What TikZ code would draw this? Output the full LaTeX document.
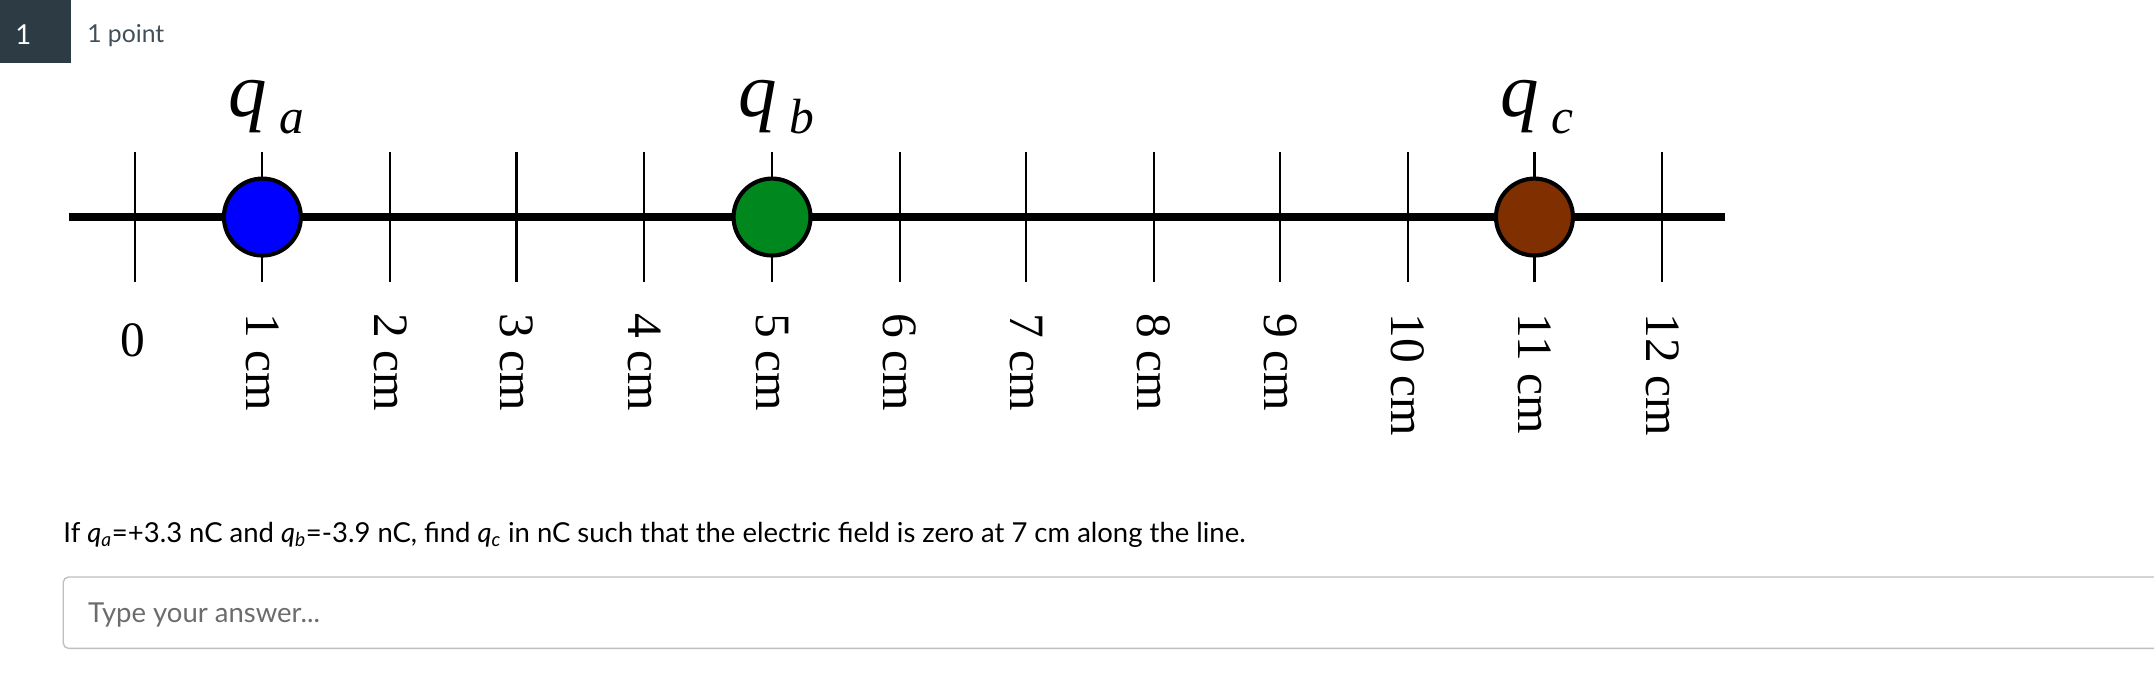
\documentclass[tikz,border=0pt]{standalone}
\usepackage{fontspec}
\setmainfont{Lato}
\newfontfamily\tms{Liberation Serif}
\definecolor{darkbox}{HTML}{2D3B45}
\definecolor{brownq}{HTML}{803000}
\definecolor{greenq}{HTML}{00881E}
\begin{document}
\begin{tikzpicture}[x=1pt,y=-1pt,
  tick/.style={line width=1.6pt},
  charge/.style={circle,draw=black,line width=3pt,minimum size=56pt,inner sep=0pt},
  lab/.style={font=\tms\fontsize{36}{36}\selectfont,rotate=-90,anchor=west,inner sep=0pt},
  qlab/.style={font=\tms\itshape\fontsize{56}{56}\selectfont,inner sep=0pt}]
\useasboundingbox (0,0) rectangle (1568,491);
\fill[darkbox] (0,0) rectangle (52,46);
\node[text=white,font=\fontsize{20}{20}\selectfont] (num) at (17,25) {1};
\node[anchor=west,text=darkbox!90,font=\fontsize{18}{18}\selectfont] (pt) at (60,26) {1 point};
\coordinate (L) at (50,158); \coordinate (R) at (1256,158);
\draw[line width=6pt] (L) -- (R);
\foreach \x [count=\i from 0] in {98,191,284,376,469,562,655,747,840,932,1025,1117,1210}
  \draw[tick] (\x,111) -- (\x,205);
\node[lab] (l1) at (191,228) {1 cm};
\node[lab] (l2) at (284,228) {2 cm};
\node[lab] (l3) at (376,228) {3 cm};
\node[lab] (l4) at (469,228) {4 cm};
\node[lab] (l5) at (562,228) {5 cm};
\node[lab] (l6) at (655,228) {6 cm};
\node[lab] (l7) at (747,228) {7 cm};
\node[lab] (l8) at (840,228) {8 cm};
\node[lab] (l9) at (932,228) {9 cm};
\node[lab] (l10) at (1025,228) {10 cm};
\node[lab] (l11) at (1117,228) {11 cm};
\node[lab] (l12) at (1210,228) {12 cm};
\node[font=\tms\fontsize{36}{36}\selectfont,inner sep=0pt] (l0) at (97,248) {0};
\node[charge,fill=blue] (qa) at (191,158) {};
\node[charge,fill=greenq] (qb) at (562,158) {};
\node[charge,fill=brownq] (qc) at (1117,158) {};
\node[qlab] (ta) at (194,78) {q\,\raisebox{-12pt}{\fontsize{36}{36}\selectfont a}};
\node[qlab] (tb) at (565,78) {q\,\raisebox{-12pt}{\fontsize{36}{36}\selectfont b}};
\node[qlab] (tc) at (1119,78) {q\,\raisebox{-12pt}{\fontsize{36}{36}\selectfont c}};
\node[anchor=west,inner sep=0pt,font=\fontsize{20}{20}\selectfont] (qtext) at (46,389)
 {If \textit{q}\textsubscript{\textit{a}}=+3.3 nC and \textit{q}\textsubscript{\textit{b}}=-3.9 nC, find \textit{q}\textsubscript{\textit{c}} in nC such that the electric field is zero at 7 cm along the line.};
\draw[gray!50,line width=1pt,rounded corners=4pt] (46,420) rectangle (1580,472);
\node[anchor=west,inner sep=0pt,text=gray!85!black,font=\fontsize{20}{20}\selectfont] (ans) at (64,448) {Type your answer...};
\end{tikzpicture}
\end{document}
